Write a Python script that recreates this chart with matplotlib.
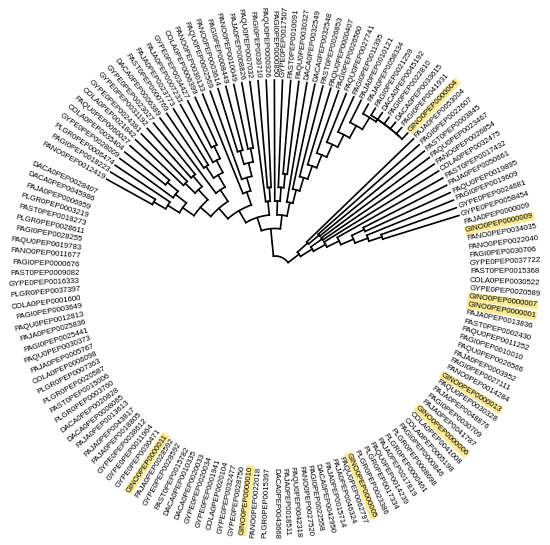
import numpy as np
import matplotlib.pyplot as plt

# leaf labels, clockwise, grouped by clade
seg_a = ["PANO0PEP0012419", "PAGI0PEP0018223", "PLGR0PEP0006474", "GYPE0PEP0028009", "COLA0PEP0035404",
         "PAQU0PEP0060027", "COLA0PEP0021842", "GYPE0PEP0024381", "GYPE0PEP0031192", "GYPE0PEP0023027",
         "DACA0PEP0006389", "PAST0PEP0000769", "PAJA0PEP0023773", "PAJA0PEP0007233", "GYPE0PEP0034427",
         "COLA0PEP0006399", "PANO0PEP0030133", "PAQU0PEP0002569", "PANO0PEP0003614", "PAGI0PEP0008449",
         "PANO0PEP0010049", "PAJA0PEP0008826", "PAQU0PEP0007032", "PAGI0PEP0030710", "PAQU0PEP0000326"]
seg_b = ["PAGI0PEP0000850", "GYPE0PEP0017507", "PAST0PEP0010091", "PAQU0PEP0030327", "DACA0PEP0032549",
         "DACA0PEP0032548", "PAST0PEP0026853", "PAQU0PEP0000407", "PAGI0PEP0026560", "PAQU0PEP0027741",
         "PAGI0PEP0011395", "PAJA0PEP0010121", "PAJA0PEP0058334", "PAGI0PEP0021259", "DACA0PEP0045192",
         "PAGI0PEP0022810", "DACA0PEP0033615", "PAGI0PEP0041931", "GINO0PEP0000004"]
seg_c = ["PAJA0PEP0053004", "PAGI0PEP0022607", "PAST0PEP0003845", "PAQU0PEP0023467", "PANO0PEP0026854",
         "COLA0PEP0032475", "PAST0PEP0017432", "PAJA0PEP0050661", "PAQU0PEP0019895", "PAGI0PEP0019609",
         "GYPE0PEP0024681", "GYPE0PEP0058454"]
seg_d = ["PAJA0PEP0000009", "GINO0PEP0000009", "PANO0PEP0034035", "PANO0PEP0022040", "PAGI0PEP0030706",
         "GYPE0PEP0037722", "PAST0PEP0015368", "COLA0PEP0030522"]
seg_e = ["GYPE0PEP0020589", "GINO0PEP0000007", "GINO0PEP0000001", "PAJA0PEP0013836", "PAST0PEP0002430",
         "PAQU0PEP0011252", "PAGI0PEP0010010", "PAQU0PEP0026566", "PAJA0PEP0003952", "PAGI0PEP0027111"]
seg_f = ["PANO0PEP0014284", "GINO0PEP0000013", "PAQU0PEP0030328", "PAJA0PEP0048876", "PAGI0PEP0030709",
         "PAJA0PEP0041787", "GINO0PEP0000006", "COLA0PEP0041008", "COLA0PEP0005198", "PAGI0PEP0000846",
         "PLGR0PEP0008698", "PLGR0PEP0000461", "PAJA0PEP0017819", "PAQU0PEP0014239", "PLGR0PEP0017334",
         "PLGR0PEP0023386", "GINO0PEP0000005", "PAQU0PEP0062797"]
seg_g = ["PAJA0PEP0046324", "PAJA0PEP0015714", "DACA0PEP0042950", "PAGI0PEP0022558", "PANO0PEP0027520",
         "PAQU0PEP0042318", "PAJA0PEP0018511", "DACA0PEP0043668"]
seg_h = ["PLGR0PEP0015397", "PANO0PEP0022018", "GINO0PEP0000010", "GYPE0PEP0028750", "GYPE0PEP0032477",
         "COLA0PEP0020104", "GYPE0PEP0001941", "GYPE0PEP0020034"]
seg_i = ["DACA0PEP0020033", "DACA0PEP0010335", "PAST0PEP0015782", "GYPE0PEP0028592", "PAJA0PEP0028592",
         "GINO0PEP0000011", "GYPE0PEP0036471", "GYPE0PEP0011964", "GYPE0PEP0038612", "PAJA0PEP0018805",
         "PAJA0PEP0043817", "PAJA0PEP0013613", "DACA0PEP0008065", "DACA0PEP0020828", "PLGR0PEP0003760",
         "PAST0PEP0015006", "PLGR0PEP0020587", "PLGR0PEP0007363"]
seg_j = ["COLA0PEP0006098", "PAJA0PEP0005767", "PAQU0PEP0030373", "PAGI0PEP0025441", "PAJA0PEP0025836",
         "PAQU0PEP0012813", "PAGI0PEP0003649", "COLA0PEP0001600"]
seg_k = ["PLGR0PEP0037397", "GYPE0PEP0016333", "PAST0PEP0009082", "PAGI0PEP0000676", "PANO0PEP0011677",
         "PAQU0PEP0019783", "PAGI0PEP0028255", "PLGR0PEP0028611", "PAST0PEP0018273", "PLGR0PEP0003219",
         "PAJA0PEP0006959", "DACA0PEP0045986", "DACA0PEP0028407"]

# topology per clade, L = next leaf
topo = {
    "A": "((((((L,L),L),(L,(L,L))),((L,L),(L,L))),(L,((L,L),(L,(L,L))))),(L,(L,((L,L),(L,L))))),(L,(L,L)))",
    "B": "((L,(L,(L,L))),(L,(L,(L,(L,(L,(L,(L,(L,(L,(L,(L,(L,(L,(L,L))))))))))))))))",
    "C": "((L,(L,L)),((L,L),(L,(L,((L,L),(L,(L,L)))))))",
    "D": "((L,(L,L)),(L,(L,(L,(L,L)))))",
    "E": "(L,((L,L),(L,(L,((L,L),(L,(L,L)))))))",
    "F": "(((L,L),((L,L),(L,(L,L)))),((L,(L,L)),((L,(L,L)),(L,((L,L),(L,L))))))",
    "G": "(L,(L,(L,(L,(L,(L,(L,L)))))))",
    "H": "((L,(L,L)),(L,(L,(L,(L,L)))))",
    "I": "(((L,L),(L,(L,L))),((L,(L,L)),((L,(L,(L,L))),((L,L),((L,L),(L,L))))))",
    "J": "(L,(L,((L,L),(L,(L,(L,L))))))",
    "K": "((L,(L,L)),((L,(L,(L,L))),((L,L),(L,(L,(L,L))))))",
}
backbone = "((((A,B),C),(D,E)),((F,(G,(H,I))),(J,K)))"
leaves = seg_a + seg_b + seg_c + seg_d + seg_e + seg_f + seg_g + seg_h + seg_i + seg_j + seg_k

newick = backbone
for key, val in topo.items():
    newick = newick.replace(key, val)


def parse(s, pos, counter):
    if s[pos] == "L":
        idx = counter[0]
        counter[0] += 1
        return {"leaf": idx, "children": []}, pos + 1
    children = []
    pos += 1  # '('
    while True:
        child, pos = parse(s, pos, counter)
        children.append(child)
        if s[pos] == ",":
            pos += 1
        else:
            return {"leaf": None, "children": children}, pos + 1


root, _ = parse(newick, 0, [0])
n = len(leaves)


def set_depth(node, d):
    node["depth"] = d
    for c in node["children"]:
        set_depth(c, d + 1)


set_depth(root, 0)

r0, R = 0.06, 0.70
start = 151.0
step = 360.0 / (n + 1)


def layout(node):
    if node["leaf"] is not None:
        node["theta"] = np.deg2rad(start - node["leaf"] * step)
        node["r"] = R
    else:
        for c in node["children"]:
            layout(c)
        node["theta"] = np.mean([c["theta"] for c in node["children"]])
        node["r"] = min(r0 + 0.05 * node["depth"], R - 0.03)


layout(root)

fig = plt.figure(figsize=(5.5, 5.45), dpi=100)
ax = fig.add_axes([0, 0, 1, 1])
ax.set_xlim(-1.0, 1.0)
ax.set_ylim(-0.99, 0.99)
ax.set_aspect("equal")
ax.axis("off")


def draw(node):
    for c in node["children"]:
        t = c["theta"]
        ax.plot([node["r"] * np.cos(t), c["r"] * np.cos(t)],
                [node["r"] * np.sin(t), c["r"] * np.sin(t)], color="black", lw=1.2)
        draw(c)
    if node["children"]:
        ts = np.linspace(node["children"][0]["theta"], node["children"][-1]["theta"], 60)
        ax.plot(node["r"] * np.cos(ts), node["r"] * np.sin(ts), color="black", lw=1.2)


draw(root)

for i, name in enumerate(leaves):
    th = start - i * step
    thr = np.deg2rad(th)
    x, y = (R + 0.01) * np.cos(thr), (R + 0.01) * np.sin(thr)
    a = (th + 360) % 360
    if 90 < a < 270:
        rot, ha = a - 180, "right"
    else:
        rot, ha = a if a < 180 else a - 360, "left"
    bbox = None
    if name.startswith("GINO"):
        bbox = dict(boxstyle="square,pad=0.1", facecolor="#fbeb94", edgecolor="none")
    ax.text(x, y, name, rotation=rot, rotation_mode="anchor", ha=ha, va="center",
            fontsize=5.6, family="Liberation Sans", bbox=bbox)

fig.savefig("out.png", dpi=100, facecolor="white")
